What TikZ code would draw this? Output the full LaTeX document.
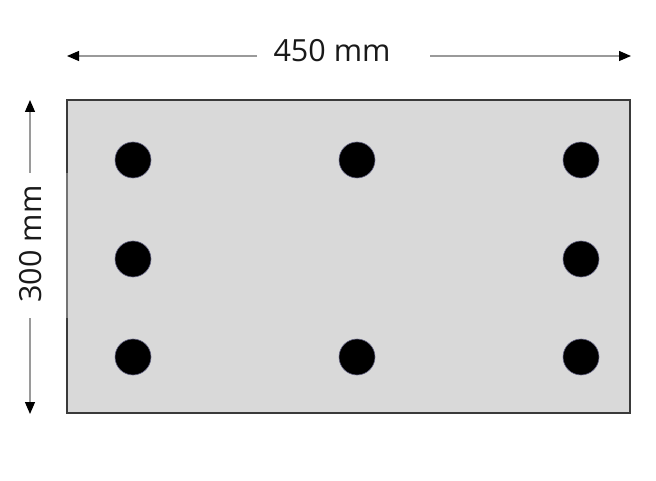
\documentclass[tikz,border=0pt]{standalone}
\usepackage{fontspec}
\setmainfont{Open Sans}
\usetikzlibrary{arrows.meta}
\definecolor{plate}{HTML}{D9D9D9}
\definecolor{edge}{HTML}{3A3A3A}
\definecolor{dimline}{HTML}{9A9A9A}
\begin{document}
\begin{tikzpicture}[x=1pt,y=-1pt,
  hole/.style={circle,fill=black,draw=black!80!blue!60,line width=0.6pt,minimum size=36pt,inner sep=0pt},
  dimarrow/.style={draw=dimline,line width=1.3pt,-{Triangle[length=12pt,width=10pt,color=black]}},
  dimtext/.style={font=\fontsize{30.5}{36}\selectfont,text=black!90,inner sep=0pt}]
\useasboundingbox (0,0) rectangle (656,481);
% plate
\fill[plate] (67,100) rectangle (630,413);
\draw[edge,line width=1.5pt] (67,173) -- (67,100) -- (630,100) -- (630,413) -- (67,413) -- (67,318);
\draw[black!55,line width=1.2pt] (67,173) -- (67,318);
% holes
\foreach \i/\x in {1/133,2/357,3/581}{
  \node[hole] (t\i) at (\x,160) {};
  \node[hole] (b\i) at (\x,357) {};
}
\node[hole] (m1) at (133,259) {};
\node[hole] (m3) at (581,259) {};
% dimensions
\node[dimtext] (w) at (332,51) {450 mm};
\coordinate (wl) at (67,56);
\coordinate (wr) at (631,56);
\coordinate (wl0) at (257,56);
\coordinate (wr0) at (430,56);
\draw[dimarrow] (wl0) -- (wl);
\draw[dimarrow] (wr0) -- (wr);
\node[dimtext,rotate=90] (h) at (31,244) {300 mm};
\coordinate (ht) at (30,100);
\coordinate (hb) at (30,414);
\coordinate (ht0) at (30,173);
\coordinate (hb0) at (30,318);
\draw[dimarrow] (ht0) -- (ht);
\draw[dimarrow] (hb0) -- (hb);
\end{tikzpicture}
\end{document}
